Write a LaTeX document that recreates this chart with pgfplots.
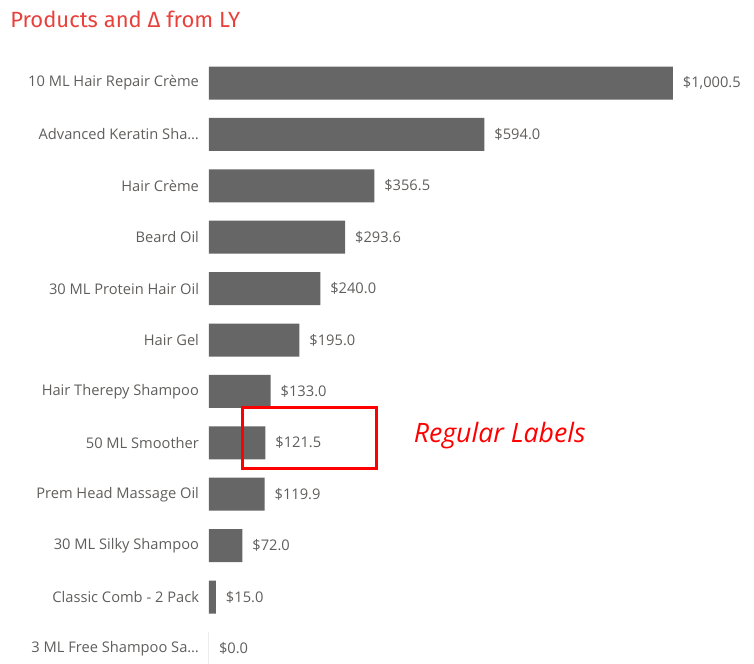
\documentclass[border=0pt]{standalone}
\usepackage{pgfplots}
\pgfplotsset{compat=1.18}
\usepackage{pgfplotstable}
\usepackage{fontspec}
\setmainfont{Open Sans}
\newfontfamily\titlefont{Fira Sans}
\definecolor{barGrey}{HTML}{666666}
\definecolor{txtGrey}{HTML}{605E5C}
\definecolor{titleRed}{HTML}{E8413C}

% rank (0 = top) and delta from last year
\pgfplotstableread{
rank delta
0 1000.5
1 594.0
2 356.5
3 293.6
4 240.0
5 195.0
6 133.0
7 121.5
8 119.9
9 72.0
10 15.0
11 0.0
}\products

\begin{document}
\begin{tikzpicture}
% 1px = 0.75pt, page 754 x 664 px
\useasboundingbox (0,0) rectangle (565.5pt,-498pt);
\node[anchor=west, inner sep=0pt, text=titleRed, font=\titlefont\fontsize{16.5}{19}\selectfont]
  at (7.5pt,-14.5pt) {Products and Δ from LY};
\begin{axis}[
  at={(156.75pt,-43pt)}, anchor=north west,
  scale only axis, width=382.5pt, height=462.6pt,
  xmin=0, xmax=1100, ymin=-0.5, ymax=11.5, y dir=reverse,
  xbar, bar width=24.75pt,
  axis line style={draw=none}, major tick length=0pt,
  xtick=\empty,
  ytick={0,...,11},
  yticklabels={10 ML Hair Repair Crème, Advanced Keratin Sha…, Hair Crème, Beard Oil,
    30 ML Protein Hair Oil, Hair Gel, Hair Therepy Shampoo, 50 ML Smoother,
    Prem Head Massage Oil, 30 ML Silky Shampoo, Classic Comb - 2 Pack, 3 ML Free Shampoo Sa…},
  yticklabel style={text=txtGrey, font=\fontsize{11}{13}\selectfont, xshift=-4pt},
  nodes near coords={\$\pgfmathprintnumber[fixed,fixed zerofill,precision=1,1000 sep={,}]{\pgfplotspointmeta}},
  point meta=x,
  /pgf/number format/assume math mode=true,
  every node near coord/.append style={text=txtGrey, font=\fontsize{11}{13}\selectfont, xshift=4pt},
  clip=false,
]
\addplot[fill=barGrey, draw=none] table[x=delta, y=rank] {\products};
\draw[red, line width=2.25pt] (axis cs:73.3,6.32) rectangle (axis cs:362,7.49);
\node[text=red, font=\itshape\fontsize{20}{24}\selectfont] at (axis cs:627,6.86) {Regular Labels};
\end{axis}
\end{tikzpicture}
\end{document}
